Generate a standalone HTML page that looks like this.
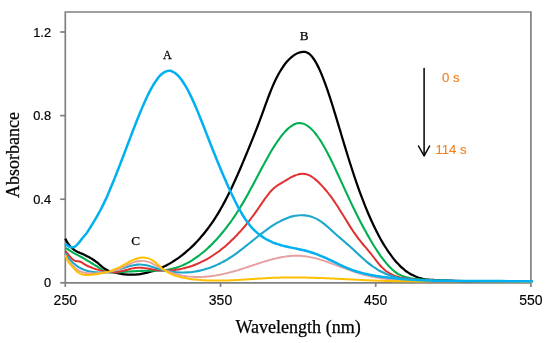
<!DOCTYPE html>
<html lang="en"><head><meta charset="utf-8"><title>Absorbance vs Wavelength</title>
<style>html,body{margin:0;padding:0;background:#fff}svg{display:block}</style></head>
<body>
<svg width="550" height="343" viewBox="0 0 550 343">
<rect width="550" height="343" fill="#fff"/>
<g stroke="#808080" stroke-width="1.7" fill="none">
<path d="M65.3 282.8V12.0H530.9V282.8"/>
<path d="M65.3 282.8H530.9" />
<path d="M60.2 282.8H65.3"/>
<path d="M60.2 199.2H65.3"/>
<path d="M60.2 115.6H65.3"/>
<path d="M60.2 32.0H65.3"/>
<path d="M65.3 282.8V286.9"/>
<path d="M220.5 282.8V286.9"/>
<path d="M375.7 282.8V286.9"/>
<path d="M530.9 282.8V286.9"/>
</g>
<g fill="none" stroke-linejoin="round" stroke-linecap="butt">
<path d="M65.20 238.60C65.45 239.05 66.20 240.47 66.70 241.30C67.20 242.14 67.70 242.91 68.20 243.63C68.70 244.35 69.20 245.00 69.70 245.61C70.20 246.22 70.70 246.77 71.20 247.29C71.70 247.80 72.20 248.26 72.70 248.69C73.20 249.13 73.70 249.51 74.20 249.87C74.70 250.23 75.20 250.55 75.70 250.85C76.20 251.16 76.70 251.42 77.20 251.68C77.70 251.94 78.20 252.16 78.70 252.39C79.20 252.61 79.70 252.81 80.20 253.02C80.70 253.23 81.20 253.43 81.70 253.65C82.20 253.86 82.70 254.08 83.20 254.31C83.70 254.54 84.20 254.78 84.70 255.03C85.20 255.27 85.70 255.53 86.20 255.78C86.70 256.03 87.20 256.29 87.70 256.54C88.20 256.80 88.70 257.06 89.20 257.32C89.70 257.59 90.20 257.86 90.70 258.14C91.20 258.43 91.70 258.72 92.20 259.04C92.70 259.35 93.20 259.68 93.70 260.02C94.20 260.36 94.70 260.71 95.20 261.08C95.70 261.45 96.20 261.84 96.70 262.23C97.20 262.63 97.70 263.04 98.20 263.46C98.70 263.88 99.40 264.49 99.70 264.75C100.00 265.01 99.53 264.61 100.00 265.01C100.47 265.42 101.67 266.52 102.50 267.17C103.33 267.83 104.17 268.43 105.00 268.94C105.83 269.44 106.67 269.83 107.50 270.20C108.33 270.56 109.17 270.85 110.00 271.14C110.83 271.43 111.67 271.69 112.50 271.94C113.33 272.18 114.17 272.41 115.00 272.63C115.83 272.84 116.67 273.03 117.50 273.21C118.33 273.39 119.17 273.55 120.00 273.70C120.83 273.84 121.67 273.97 122.50 274.08C123.33 274.19 124.17 274.29 125.00 274.36C125.83 274.44 126.67 274.50 127.50 274.55C128.33 274.59 129.17 274.62 130.00 274.64C130.83 274.65 131.67 274.65 132.50 274.63C133.33 274.61 134.17 274.57 135.00 274.52C135.83 274.47 136.67 274.40 137.50 274.32C138.33 274.24 139.17 274.14 140.00 274.03C140.83 273.91 141.67 273.79 142.50 273.64C143.33 273.50 144.17 273.34 145.00 273.17C145.83 272.99 146.67 272.80 147.50 272.60C148.33 272.40 149.17 272.18 150.00 271.95C150.83 271.71 151.67 271.46 152.50 271.20C153.33 270.94 154.17 270.66 155.00 270.37C155.83 270.08 156.67 269.77 157.50 269.44C158.33 269.12 159.17 268.78 160.00 268.43C160.83 268.07 161.67 267.70 162.50 267.31C163.33 266.93 164.17 266.52 165.00 266.11C165.83 265.69 166.67 265.25 167.50 264.80C168.33 264.35 169.17 263.88 170.00 263.40C170.83 262.91 171.67 262.41 172.50 261.90C173.33 261.38 174.17 260.84 175.00 260.29C175.83 259.74 176.67 259.17 177.50 258.59C178.33 258.00 179.17 257.40 180.00 256.78C180.83 256.15 181.67 255.52 182.50 254.86C183.33 254.20 184.17 253.53 185.00 252.84C185.83 252.15 186.67 251.44 187.50 250.71C188.33 249.98 189.17 249.23 190.00 248.47C190.83 247.70 191.67 246.92 192.50 246.11C193.33 245.30 194.17 244.47 195.00 243.62C195.83 242.77 196.67 241.90 197.50 241.01C198.33 240.11 199.17 239.19 200.00 238.25C200.83 237.30 201.67 236.33 202.50 235.34C203.33 234.34 204.17 233.32 205.00 232.27C205.83 231.22 206.67 230.14 207.50 229.04C208.33 227.93 209.17 226.80 210.00 225.63C210.83 224.47 211.67 223.27 212.50 222.05C213.33 220.82 214.17 219.56 215.00 218.27C215.83 216.98 216.67 215.66 217.50 214.30C218.33 212.94 219.17 211.55 220.00 210.12C220.83 208.69 221.67 207.23 222.50 205.73C223.33 204.23 224.17 202.69 225.00 201.12C225.83 199.54 226.67 197.93 227.50 196.28C228.33 194.63 229.17 192.94 230.00 191.22C230.83 189.50 231.67 187.74 232.50 185.96C233.33 184.17 234.17 182.36 235.00 180.52C235.83 178.68 236.67 176.81 237.50 174.92C238.33 173.03 239.17 171.11 240.00 169.18C240.83 167.25 241.67 165.30 242.50 163.33C243.33 161.37 244.17 159.38 245.00 157.39C245.83 155.39 246.67 153.38 247.50 151.37C248.33 149.35 249.17 147.33 250.00 145.30C250.83 143.26 251.67 141.23 252.50 139.16C253.33 137.10 254.17 135.03 255.00 132.93C255.83 130.82 256.67 128.70 257.50 126.53C258.33 124.37 259.17 122.18 260.00 119.94C260.83 117.70 261.67 115.41 262.50 113.11C263.33 110.82 264.17 108.47 265.00 106.17C265.83 103.87 266.67 101.55 267.50 99.31C268.33 97.06 269.17 94.84 270.00 92.72C270.83 90.60 271.67 88.55 272.50 86.60C273.33 84.66 274.17 82.81 275.00 81.04C275.83 79.28 276.67 77.61 277.50 76.03C278.33 74.44 279.17 72.95 280.00 71.54C280.83 70.12 281.67 68.80 282.50 67.55C283.33 66.31 284.17 65.14 285.00 64.06C285.83 62.97 286.67 61.97 287.50 61.03C288.33 60.10 289.17 59.25 290.00 58.46C290.83 57.68 291.67 56.97 292.50 56.33C293.33 55.69 294.17 55.12 295.00 54.61C295.83 54.10 296.67 53.67 297.50 53.29C298.33 52.91 299.17 52.59 300.00 52.36C300.83 52.12 301.67 51.93 302.50 51.87C303.33 51.81 304.17 51.82 305.00 51.97C305.83 52.13 306.67 52.39 307.50 52.81C308.33 53.24 309.17 53.79 310.00 54.52C310.83 55.26 311.67 56.17 312.50 57.22C313.33 58.28 314.17 59.51 315.00 60.87C315.83 62.23 316.67 63.75 317.50 65.38C318.33 67.01 319.17 68.78 320.00 70.66C320.83 72.53 321.67 74.53 322.50 76.62C323.33 78.70 324.17 80.90 325.00 83.17C325.83 85.44 326.67 87.81 327.50 90.23C328.33 92.65 329.17 95.15 330.00 97.70C330.83 100.25 331.67 102.87 332.50 105.52C333.33 108.16 334.17 110.87 335.00 113.59C335.83 116.31 336.67 119.07 337.50 121.84C338.33 124.61 339.17 127.40 340.00 130.19C340.83 132.98 341.67 135.78 342.50 138.56C343.33 141.34 344.17 144.12 345.00 146.87C345.83 149.62 346.67 152.35 347.50 155.04C348.33 157.73 349.17 160.39 350.00 163.01C350.83 165.64 351.67 168.23 352.50 170.77C353.33 173.32 354.17 175.83 355.00 178.29C355.83 180.76 356.67 183.18 357.50 185.55C358.33 187.93 359.17 190.25 360.00 192.53C360.83 194.81 361.67 197.04 362.50 199.22C363.33 201.40 364.17 203.52 365.00 205.61C365.83 207.69 366.67 209.72 367.50 211.70C368.33 213.69 369.17 215.62 370.00 217.51C370.83 219.40 371.67 221.24 372.50 223.04C373.33 224.83 374.17 226.58 375.00 228.28C375.83 229.98 376.67 231.63 377.50 233.24C378.33 234.85 379.17 236.41 380.00 237.92C380.83 239.44 381.67 240.91 382.50 242.34C383.33 243.76 384.17 245.14 385.00 246.48C385.83 247.82 386.67 249.11 387.50 250.36C388.33 251.60 389.17 252.81 390.00 253.97C390.83 255.13 391.67 256.24 392.50 257.32C393.33 258.39 394.17 259.42 395.00 260.41C395.83 261.40 396.67 262.35 397.50 263.25C398.33 264.15 399.17 265.02 400.00 265.84C400.83 266.66 401.67 267.44 402.50 268.18C403.33 268.91 404.17 269.61 405.00 270.27C405.83 270.93 406.67 271.54 407.50 272.12C408.33 272.70 409.17 273.23 410.00 273.73C410.83 274.23 411.67 274.69 412.50 275.12C413.33 275.55 414.17 275.94 415.00 276.30C415.83 276.66 416.67 276.99 417.50 277.29C418.33 277.59 419.17 277.86 420.00 278.10C420.83 278.35 421.67 278.56 422.50 278.76C423.33 278.95 424.17 279.14 425.00 279.27C425.83 279.41 426.67 279.49 427.50 279.57C428.33 279.65 429.17 279.70 430.00 279.76C430.83 279.81 431.67 279.85 432.50 279.90C433.33 279.95 434.17 279.99 435.00 280.04C435.83 280.09 436.67 280.16 437.50 280.20C438.33 280.24 437.08 280.19 440.00 280.29C442.92 280.40 450.00 280.69 455.00 280.82C460.00 280.94 465.00 280.99 470.00 281.03C475.00 281.07 480.00 281.06 485.00 281.07C490.00 281.08 495.00 281.10 500.00 281.11C505.00 281.13 510.00 281.14 515.00 281.15C520.00 281.17 527.17 281.19 530.00 281.20C532.83 281.20 531.67 281.20 532.00 281.20" stroke="#000000" stroke-width="2.25"/>
<path d="M65.20 248.00C65.45 248.11 66.20 248.41 66.70 248.67C67.20 248.92 67.70 249.22 68.20 249.52C68.70 249.82 69.20 250.16 69.70 250.49C70.20 250.82 70.70 251.17 71.20 251.50C71.70 251.83 72.20 252.17 72.70 252.48C73.20 252.79 73.70 253.09 74.20 253.37C74.70 253.64 75.20 253.89 75.70 254.14C76.20 254.38 76.70 254.61 77.20 254.86C77.70 255.10 78.20 255.34 78.70 255.60C79.20 255.86 79.70 256.12 80.20 256.39C80.70 256.67 81.20 256.95 81.70 257.23C82.20 257.52 82.70 257.81 83.20 258.11C83.70 258.40 84.20 258.70 84.70 259.00C85.20 259.30 85.70 259.60 86.20 259.90C86.70 260.20 87.20 260.50 87.70 260.80C88.20 261.10 88.70 261.40 89.20 261.70C89.70 261.99 90.20 262.29 90.70 262.59C91.20 262.89 91.70 263.19 92.20 263.49C92.70 263.79 93.20 264.09 93.70 264.39C94.20 264.69 94.70 265.00 95.20 265.30C95.70 265.61 96.20 265.92 96.70 266.23C97.20 266.54 97.70 266.86 98.20 267.17C98.70 267.49 99.40 267.95 99.70 268.14C100.00 268.34 99.53 268.04 100.00 268.34C100.47 268.63 101.67 269.44 102.50 269.91C103.33 270.38 104.17 270.82 105.00 271.16C105.83 271.51 106.67 271.76 107.50 271.97C108.33 272.18 109.17 272.31 110.00 272.41C110.83 272.50 111.67 272.54 112.50 272.55C113.33 272.57 114.17 272.54 115.00 272.51C115.83 272.47 116.67 272.41 117.50 272.35C118.33 272.30 119.17 272.23 120.00 272.17C120.83 272.11 121.67 272.05 122.50 271.99C123.33 271.93 124.17 271.87 125.00 271.82C125.83 271.76 126.67 271.70 127.50 271.65C128.33 271.59 129.17 271.53 130.00 271.48C130.83 271.43 131.67 271.38 132.50 271.33C133.33 271.28 134.17 271.23 135.00 271.18C135.83 271.14 136.67 271.09 137.50 271.05C138.33 271.01 139.17 270.97 140.00 270.93C140.83 270.90 141.67 270.86 142.50 270.83C143.33 270.80 144.17 270.78 145.00 270.75C145.83 270.73 146.67 270.71 147.50 270.69C148.33 270.68 149.17 270.67 150.00 270.66C150.83 270.65 151.67 270.65 152.50 270.64C153.33 270.64 154.17 270.64 155.00 270.63C155.83 270.62 156.67 270.61 157.50 270.59C158.33 270.58 159.17 270.55 160.00 270.52C160.83 270.48 161.67 270.44 162.50 270.38C163.33 270.32 164.17 270.25 165.00 270.15C165.83 270.06 166.67 269.95 167.50 269.82C168.33 269.69 169.17 269.54 170.00 269.37C170.83 269.20 171.67 269.01 172.50 268.80C173.33 268.59 174.17 268.36 175.00 268.11C175.83 267.87 176.67 267.60 177.50 267.31C178.33 267.02 179.17 266.72 180.00 266.39C180.83 266.07 181.67 265.72 182.50 265.36C183.33 264.99 184.17 264.61 185.00 264.20C185.83 263.80 186.67 263.37 187.50 262.93C188.33 262.49 189.17 262.02 190.00 261.54C190.83 261.06 191.67 260.55 192.50 260.03C193.33 259.51 194.17 258.96 195.00 258.40C195.83 257.84 196.67 257.26 197.50 256.65C198.33 256.05 199.17 255.43 200.00 254.79C200.83 254.15 201.67 253.48 202.50 252.80C203.33 252.12 204.17 251.42 205.00 250.70C205.83 249.98 206.67 249.23 207.50 248.47C208.33 247.71 209.17 246.93 210.00 246.13C210.83 245.32 211.67 244.50 212.50 243.66C213.33 242.82 214.17 241.95 215.00 241.07C215.83 240.18 216.67 239.28 217.50 238.35C218.33 237.42 219.17 236.47 220.00 235.50C220.83 234.53 221.67 233.54 222.50 232.52C223.33 231.51 224.17 230.47 225.00 229.41C225.83 228.35 226.67 227.27 227.50 226.16C228.33 225.05 229.17 223.93 230.00 222.77C230.83 221.62 231.67 220.44 232.50 219.24C233.33 218.04 234.17 216.81 235.00 215.56C235.83 214.31 236.67 213.04 237.50 211.74C238.33 210.44 239.17 209.11 240.00 207.76C240.83 206.41 241.67 205.04 242.50 203.64C243.33 202.24 244.17 200.81 245.00 199.36C245.83 197.90 246.67 196.42 247.50 194.92C248.33 193.42 249.17 191.90 250.00 190.36C250.83 188.83 251.67 187.27 252.50 185.71C253.33 184.15 254.17 182.58 255.00 181.00C255.83 179.43 256.67 177.84 257.50 176.26C258.33 174.68 259.17 173.10 260.00 171.53C260.83 169.96 261.67 168.39 262.50 166.83C263.33 165.28 264.17 163.73 265.00 162.21C265.83 160.68 266.67 159.17 267.50 157.69C268.33 156.20 269.17 154.73 270.00 153.30C270.83 151.87 271.67 150.46 272.50 149.08C273.33 147.71 274.17 146.37 275.00 145.07C275.83 143.77 276.67 142.50 277.50 141.28C278.33 140.07 279.17 138.89 280.00 137.77C280.83 136.64 281.67 135.56 282.50 134.55C283.33 133.53 284.17 132.56 285.00 131.66C285.83 130.76 286.67 129.91 287.50 129.13C288.33 128.36 289.17 127.64 290.00 127.00C290.83 126.36 291.67 125.79 292.50 125.30C293.33 124.81 294.17 124.39 295.00 124.06C295.83 123.73 296.67 123.48 297.50 123.31C298.33 123.15 299.17 123.07 300.00 123.09C300.83 123.11 301.67 123.22 302.50 123.43C303.33 123.64 304.17 123.94 305.00 124.33C305.83 124.72 306.67 125.20 307.50 125.76C308.33 126.32 309.17 126.97 310.00 127.70C310.83 128.42 311.67 129.23 312.50 130.11C313.33 130.99 314.17 131.95 315.00 132.97C315.83 134.00 316.67 135.09 317.50 136.25C318.33 137.41 319.17 138.63 320.00 139.92C320.83 141.20 321.67 142.54 322.50 143.94C323.33 145.33 324.17 146.79 325.00 148.28C325.83 149.78 326.67 151.33 327.50 152.91C328.33 154.49 329.17 156.12 330.00 157.78C330.83 159.43 331.67 161.13 332.50 162.85C333.33 164.57 334.17 166.32 335.00 168.08C335.83 169.85 336.67 171.64 337.50 173.44C338.33 175.24 339.17 177.05 340.00 178.87C340.83 180.69 341.67 182.53 342.50 184.36C343.33 186.18 344.17 188.02 345.00 189.84C345.83 191.66 346.67 193.48 347.50 195.29C348.33 197.09 349.17 198.88 350.00 200.66C350.83 202.43 351.67 204.18 352.50 205.92C353.33 207.65 354.17 209.37 355.00 211.06C355.83 212.75 356.67 214.43 357.50 216.08C358.33 217.73 359.17 219.37 360.00 220.97C360.83 222.58 361.67 224.17 362.50 225.74C363.33 227.31 364.17 228.85 365.00 230.37C365.83 231.89 366.67 233.39 367.50 234.86C368.33 236.34 369.17 237.79 370.00 239.22C370.83 240.64 371.67 242.05 372.50 243.42C373.33 244.80 374.17 246.16 375.00 247.48C375.83 248.80 376.67 250.09 377.50 251.35C378.33 252.61 379.17 253.84 380.00 255.03C380.83 256.22 381.67 257.38 382.50 258.49C383.33 259.61 384.17 260.68 385.00 261.72C385.83 262.75 386.67 263.74 387.50 264.68C388.33 265.62 389.17 266.52 390.00 267.36C390.83 268.20 391.67 269.00 392.50 269.74C393.33 270.48 394.17 271.17 395.00 271.80C395.83 272.43 396.67 273.00 397.50 273.52C398.33 274.04 399.17 274.50 400.00 274.93C400.83 275.35 401.67 275.72 402.50 276.06C403.33 276.39 404.17 276.69 405.00 276.95C405.83 277.21 406.67 277.43 407.50 277.64C408.33 277.84 409.17 278.01 410.00 278.16C410.83 278.31 411.67 278.44 412.50 278.55C413.33 278.67 414.17 278.76 415.00 278.85C415.83 278.94 416.67 279.02 417.50 279.09C418.33 279.17 419.17 279.24 420.00 279.31C420.83 279.39 421.67 279.45 422.50 279.52C423.33 279.58 424.17 279.65 425.00 279.71C425.83 279.77 426.67 279.83 427.50 279.90C428.33 279.96 429.17 280.03 430.00 280.08C430.83 280.14 431.67 280.19 432.50 280.23C433.33 280.28 434.17 280.32 435.00 280.36C435.83 280.41 436.67 280.44 437.50 280.48C438.33 280.52 437.08 280.50 440.00 280.59C442.92 280.68 450.00 280.94 455.00 281.01C460.00 281.09 465.00 281.04 470.00 281.05C475.00 281.06 480.00 281.07 485.00 281.09C490.00 281.10 495.00 281.11 500.00 281.12C505.00 281.14 510.00 281.15 515.00 281.16C520.00 281.17 527.17 281.19 530.00 281.20C532.83 281.20 531.67 281.20 532.00 281.20" stroke="#00B050" stroke-width="2.1"/>
<path d="M65.20 251.00C65.45 251.27 66.20 252.06 66.70 252.64C67.20 253.21 67.70 253.84 68.20 254.45C68.70 255.06 69.20 255.70 69.70 256.29C70.20 256.88 70.70 257.48 71.20 258.00C71.70 258.52 72.20 259.02 72.70 259.43C73.20 259.83 73.70 260.16 74.20 260.42C74.70 260.67 75.20 260.82 75.70 260.95C76.20 261.07 76.70 261.11 77.20 261.17C77.70 261.24 78.20 261.24 78.70 261.33C79.20 261.43 79.70 261.55 80.20 261.74C80.70 261.93 81.20 262.20 81.70 262.48C82.20 262.76 82.70 263.10 83.20 263.42C83.70 263.74 84.20 264.09 84.70 264.40C85.20 264.70 85.70 265.00 86.20 265.26C86.70 265.53 87.20 265.76 87.70 265.99C88.20 266.23 88.70 266.44 89.20 266.66C89.70 266.87 90.20 267.08 90.70 267.28C91.20 267.48 91.70 267.68 92.20 267.87C92.70 268.06 93.20 268.24 93.70 268.42C94.20 268.59 94.70 268.77 95.20 268.93C95.70 269.10 96.20 269.26 96.70 269.41C97.20 269.57 97.70 269.72 98.20 269.86C98.70 270.01 99.40 270.20 99.70 270.28C100.00 270.37 99.53 270.25 100.00 270.36C100.47 270.48 101.67 270.79 102.50 270.98C103.33 271.17 104.17 271.34 105.00 271.49C105.83 271.65 106.67 271.78 107.50 271.89C108.33 272.00 109.17 272.09 110.00 272.15C110.83 272.22 111.67 272.26 112.50 272.27C113.33 272.28 114.17 272.26 115.00 272.21C115.83 272.17 116.67 272.09 117.50 271.98C118.33 271.87 119.17 271.72 120.00 271.56C120.83 271.39 121.67 271.19 122.50 270.98C123.33 270.78 124.17 270.55 125.00 270.32C125.83 270.09 126.67 269.85 127.50 269.62C128.33 269.39 129.17 269.16 130.00 268.95C130.83 268.74 131.67 268.54 132.50 268.37C133.33 268.20 134.17 268.05 135.00 267.94C135.83 267.83 136.67 267.75 137.50 267.71C138.33 267.67 139.17 267.67 140.00 267.69C140.83 267.72 141.67 267.77 142.50 267.85C143.33 267.92 144.17 268.02 145.00 268.13C145.83 268.24 146.67 268.37 147.50 268.51C148.33 268.64 149.17 268.79 150.00 268.94C150.83 269.09 151.67 269.24 152.50 269.39C153.33 269.53 154.17 269.68 155.00 269.81C155.83 269.94 156.67 270.07 157.50 270.17C158.33 270.28 159.17 270.37 160.00 270.44C160.83 270.51 161.67 270.56 162.50 270.60C163.33 270.63 164.17 270.65 165.00 270.66C165.83 270.66 166.67 270.65 167.50 270.62C168.33 270.59 169.17 270.55 170.00 270.49C170.83 270.44 171.67 270.36 172.50 270.28C173.33 270.19 174.17 270.09 175.00 269.98C175.83 269.87 176.67 269.74 177.50 269.61C178.33 269.47 179.17 269.32 180.00 269.15C180.83 268.99 181.67 268.81 182.50 268.63C183.33 268.44 184.17 268.23 185.00 268.02C185.83 267.80 186.67 267.57 187.50 267.33C188.33 267.09 189.17 266.83 190.00 266.56C190.83 266.29 191.67 266.01 192.50 265.71C193.33 265.41 194.17 265.10 195.00 264.77C195.83 264.44 196.67 264.10 197.50 263.75C198.33 263.39 199.17 263.02 200.00 262.63C200.83 262.25 201.67 261.85 202.50 261.43C203.33 261.02 204.17 260.59 205.00 260.14C205.83 259.70 206.67 259.24 207.50 258.76C208.33 258.29 209.17 257.79 210.00 257.29C210.83 256.78 211.67 256.25 212.50 255.72C213.33 255.18 214.17 254.62 215.00 254.05C215.83 253.48 216.67 252.89 217.50 252.28C218.33 251.68 219.17 251.06 220.00 250.42C220.83 249.78 221.67 249.13 222.50 248.46C223.33 247.78 224.17 247.10 225.00 246.39C225.83 245.68 226.67 244.96 227.50 244.22C228.33 243.48 229.17 242.72 230.00 241.94C230.83 241.17 231.67 240.38 232.50 239.56C233.33 238.75 234.17 237.92 235.00 237.07C235.83 236.23 236.67 235.36 237.50 234.48C238.33 233.59 239.17 232.69 240.00 231.77C240.83 230.84 241.67 229.90 242.50 228.94C243.33 227.98 244.17 227.01 245.00 226.01C245.83 225.01 246.67 223.99 247.50 222.96C248.33 221.92 249.17 220.87 250.00 219.79C250.83 218.71 251.67 217.62 252.50 216.50C253.33 215.39 254.17 214.25 255.00 213.10C255.83 211.94 256.67 210.77 257.50 209.57C258.33 208.38 259.17 207.15 260.00 205.94C260.83 204.72 261.67 203.48 262.50 202.27C263.33 201.06 264.17 199.85 265.00 198.68C265.83 197.51 266.67 196.36 267.50 195.27C268.33 194.19 269.17 193.13 270.00 192.16C270.83 191.18 271.67 190.26 272.50 189.43C273.33 188.61 274.17 187.87 275.00 187.21C275.83 186.55 276.67 186.02 277.50 185.48C278.33 184.94 279.17 184.47 280.00 183.97C280.83 183.46 281.67 182.96 282.50 182.44C283.33 181.93 284.17 181.41 285.00 180.89C285.83 180.38 286.67 179.87 287.50 179.37C288.33 178.88 289.17 178.39 290.00 177.94C290.83 177.48 291.67 177.04 292.50 176.64C293.33 176.23 294.17 175.85 295.00 175.52C295.83 175.19 296.67 174.89 297.50 174.65C298.33 174.41 299.17 174.20 300.00 174.07C300.83 173.93 301.67 173.85 302.50 173.84C303.33 173.83 304.17 173.87 305.00 174.01C305.83 174.14 306.67 174.34 307.50 174.63C308.33 174.91 309.17 175.28 310.00 175.72C310.83 176.16 311.67 176.67 312.50 177.24C313.33 177.81 314.17 178.45 315.00 179.13C315.83 179.81 316.67 180.55 317.50 181.32C318.33 182.10 319.17 182.92 320.00 183.77C320.83 184.62 321.67 185.50 322.50 186.41C323.33 187.32 324.17 188.26 325.00 189.24C325.83 190.21 326.67 191.21 327.50 192.25C328.33 193.29 329.17 194.36 330.00 195.47C330.83 196.57 331.67 197.71 332.50 198.89C333.33 200.06 334.17 201.28 335.00 202.52C335.83 203.76 336.67 205.03 337.50 206.32C338.33 207.61 339.17 208.94 340.00 210.26C340.83 211.59 341.67 212.94 342.50 214.28C343.33 215.63 344.17 216.99 345.00 218.33C345.83 219.68 346.67 221.04 347.50 222.37C348.33 223.71 349.17 225.04 350.00 226.35C350.83 227.66 351.67 228.96 352.50 230.22C353.33 231.48 354.17 232.73 355.00 233.93C355.83 235.13 356.67 236.31 357.50 237.44C358.33 238.56 359.17 239.64 360.00 240.69C360.83 241.75 361.67 242.74 362.50 243.74C363.33 244.74 364.17 245.70 365.00 246.67C365.83 247.65 366.67 248.60 367.50 249.59C368.33 250.57 369.17 251.55 370.00 252.58C370.83 253.60 371.67 254.67 372.50 255.74C373.33 256.81 374.17 257.93 375.00 259.02C375.83 260.10 376.67 261.20 377.50 262.24C378.33 263.28 379.17 264.31 380.00 265.25C380.83 266.20 381.67 267.08 382.50 267.90C383.33 268.71 384.17 269.46 385.00 270.15C385.83 270.84 386.67 271.46 387.50 272.04C388.33 272.62 389.17 273.13 390.00 273.61C390.83 274.09 391.67 274.51 392.50 274.90C393.33 275.29 394.17 275.63 395.00 275.94C395.83 276.26 396.67 276.53 397.50 276.78C398.33 277.03 399.17 277.24 400.00 277.44C400.83 277.64 401.67 277.81 402.50 277.97C403.33 278.13 404.17 278.27 405.00 278.40C405.83 278.53 406.67 278.65 407.50 278.77C408.33 278.89 409.17 278.99 410.00 279.10C410.83 279.20 411.67 279.30 412.50 279.39C413.33 279.48 414.17 279.57 415.00 279.65C415.83 279.73 416.67 279.80 417.50 279.87C418.33 279.94 419.17 280.00 420.00 280.06C420.83 280.12 421.67 280.18 422.50 280.23C423.33 280.28 424.17 280.33 425.00 280.37C425.83 280.40 426.67 280.43 427.50 280.45C428.33 280.48 429.17 280.51 430.00 280.53C430.83 280.56 431.67 280.57 432.50 280.59C433.33 280.60 434.17 280.62 435.00 280.63C435.83 280.65 436.67 280.66 437.50 280.68C438.33 280.69 437.08 280.67 440.00 280.72C442.92 280.78 450.00 280.96 455.00 281.01C460.00 281.07 465.00 281.04 470.00 281.05C475.00 281.06 480.00 281.07 485.00 281.09C490.00 281.10 495.00 281.11 500.00 281.12C505.00 281.14 510.00 281.15 515.00 281.16C520.00 281.17 527.17 281.19 530.00 281.20C532.83 281.20 531.67 281.20 532.00 281.20" stroke="#E03030" stroke-width="2.0"/>
<path d="M65.20 253.10C65.45 253.47 66.20 254.61 66.70 255.32C67.20 256.03 67.70 256.71 68.20 257.36C68.70 258.01 69.20 258.62 69.70 259.22C70.20 259.81 70.70 260.37 71.20 260.91C71.70 261.44 72.20 261.95 72.70 262.44C73.20 262.92 73.70 263.38 74.20 263.82C74.70 264.25 75.20 264.66 75.70 265.05C76.20 265.44 76.70 265.81 77.20 266.16C77.70 266.51 78.20 266.83 78.70 267.14C79.20 267.45 79.70 267.73 80.20 268.00C80.70 268.27 81.20 268.53 81.70 268.76C82.20 269.00 82.70 269.22 83.20 269.42C83.70 269.63 84.20 269.82 84.70 269.99C85.20 270.17 85.70 270.33 86.20 270.49C86.70 270.64 87.20 270.78 87.70 270.91C88.20 271.03 88.70 271.15 89.20 271.26C89.70 271.37 90.20 271.47 90.70 271.57C91.20 271.66 91.70 271.74 92.20 271.82C92.70 271.90 93.20 271.98 93.70 272.04C94.20 272.11 94.70 272.17 95.20 272.22C95.70 272.28 96.20 272.33 96.70 272.37C97.20 272.41 97.70 272.44 98.20 272.47C98.70 272.49 99.40 272.51 99.70 272.52C100.00 272.53 99.53 272.53 100.00 272.53C100.47 272.53 101.67 272.54 102.50 272.51C103.33 272.49 104.17 272.44 105.00 272.37C105.83 272.31 106.67 272.22 107.50 272.10C108.33 271.99 109.17 271.85 110.00 271.69C110.83 271.53 111.67 271.35 112.50 271.15C113.33 270.95 114.17 270.73 115.00 270.50C115.83 270.27 116.67 270.02 117.50 269.77C118.33 269.52 119.17 269.26 120.00 269.00C120.83 268.73 121.67 268.46 122.50 268.20C123.33 267.93 124.17 267.67 125.00 267.41C125.83 267.16 126.67 266.90 127.50 266.67C128.33 266.43 129.17 266.20 130.00 265.99C130.83 265.78 131.67 265.58 132.50 265.41C133.33 265.24 134.17 265.09 135.00 264.96C135.83 264.84 136.67 264.74 137.50 264.67C138.33 264.61 139.17 264.57 140.00 264.57C140.83 264.57 141.67 264.61 142.50 264.69C143.33 264.76 144.17 264.89 145.00 265.03C145.83 265.18 146.67 265.37 147.50 265.57C148.33 265.78 149.17 266.01 150.00 266.25C150.83 266.50 151.67 266.76 152.50 267.02C153.33 267.29 154.17 267.56 155.00 267.83C155.83 268.10 156.67 268.37 157.50 268.62C158.33 268.88 159.17 269.13 160.00 269.36C160.83 269.59 161.67 269.81 162.50 270.01C163.33 270.22 164.17 270.41 165.00 270.59C165.83 270.77 166.67 270.94 167.50 271.10C168.33 271.25 169.17 271.40 170.00 271.53C170.83 271.66 171.67 271.77 172.50 271.88C173.33 271.98 174.17 272.08 175.00 272.16C175.83 272.23 176.67 272.30 177.50 272.36C178.33 272.41 179.17 272.45 180.00 272.48C180.83 272.51 181.67 272.52 182.50 272.53C183.33 272.53 184.17 272.52 185.00 272.50C185.83 272.47 186.67 272.44 187.50 272.39C188.33 272.34 189.17 272.27 190.00 272.20C190.83 272.12 191.67 272.03 192.50 271.93C193.33 271.83 194.17 271.71 195.00 271.58C195.83 271.45 196.67 271.31 197.50 271.15C198.33 270.99 199.17 270.82 200.00 270.63C200.83 270.45 201.67 270.25 202.50 270.04C203.33 269.82 204.17 269.60 205.00 269.35C205.83 269.11 206.67 268.86 207.50 268.59C208.33 268.32 209.17 268.03 210.00 267.74C210.83 267.44 211.67 267.13 212.50 266.80C213.33 266.47 214.17 266.13 215.00 265.77C215.83 265.42 216.67 265.05 217.50 264.66C218.33 264.27 219.17 263.87 220.00 263.46C220.83 263.04 221.67 262.61 222.50 262.17C223.33 261.72 224.17 261.26 225.00 260.78C225.83 260.31 226.67 259.82 227.50 259.31C228.33 258.81 229.17 258.28 230.00 257.75C230.83 257.21 231.67 256.66 232.50 256.09C233.33 255.53 234.17 254.94 235.00 254.35C235.83 253.76 236.67 253.15 237.50 252.54C238.33 251.93 239.17 251.30 240.00 250.67C240.83 250.03 241.67 249.39 242.50 248.74C243.33 248.09 244.17 247.44 245.00 246.78C245.83 246.12 246.67 245.46 247.50 244.79C248.33 244.12 249.17 243.45 250.00 242.78C250.83 242.11 251.67 241.44 252.50 240.76C253.33 240.09 254.17 239.42 255.00 238.75C255.83 238.09 256.67 237.42 257.50 236.76C258.33 236.10 259.17 235.44 260.00 234.79C260.83 234.14 261.67 233.50 262.50 232.86C263.33 232.23 264.17 231.60 265.00 230.98C265.83 230.37 266.67 229.76 267.50 229.16C268.33 228.57 269.17 227.98 270.00 227.41C270.83 226.84 271.67 226.28 272.50 225.74C273.33 225.20 274.17 224.67 275.00 224.16C275.83 223.65 276.67 223.16 277.50 222.68C278.33 222.21 279.17 221.75 280.00 221.31C280.83 220.87 281.67 220.45 282.50 220.05C283.33 219.66 284.17 219.28 285.00 218.92C285.83 218.57 286.67 218.23 287.50 217.92C288.33 217.61 289.17 217.33 290.00 217.06C290.83 216.80 291.67 216.57 292.50 216.36C293.33 216.15 294.17 215.96 295.00 215.81C295.83 215.65 296.67 215.52 297.50 215.42C298.33 215.33 299.17 215.26 300.00 215.22C300.83 215.18 301.67 215.17 302.50 215.19C303.33 215.22 304.17 215.27 305.00 215.36C305.83 215.45 306.67 215.58 307.50 215.74C308.33 215.89 309.17 216.09 310.00 216.32C310.83 216.55 311.67 216.81 312.50 217.12C313.33 217.42 314.17 217.76 315.00 218.14C315.83 218.52 316.67 218.94 317.50 219.41C318.33 219.87 319.17 220.37 320.00 220.91C320.83 221.46 321.67 222.05 322.50 222.67C323.33 223.29 324.17 223.95 325.00 224.64C325.83 225.32 326.67 226.04 327.50 226.76C328.33 227.49 329.17 228.23 330.00 228.98C330.83 229.73 331.67 230.48 332.50 231.23C333.33 231.98 334.17 232.73 335.00 233.47C335.83 234.21 336.67 234.94 337.50 235.67C338.33 236.40 339.17 237.13 340.00 237.85C340.83 238.58 341.67 239.30 342.50 240.02C343.33 240.74 344.17 241.46 345.00 242.18C345.83 242.90 346.67 243.62 347.50 244.35C348.33 245.08 349.17 245.82 350.00 246.56C350.83 247.31 351.67 248.06 352.50 248.82C353.33 249.58 354.17 250.35 355.00 251.12C355.83 251.89 356.67 252.67 357.50 253.45C358.33 254.22 359.17 255.00 360.00 255.76C360.83 256.53 361.67 257.29 362.50 258.04C363.33 258.79 364.17 259.54 365.00 260.26C365.83 260.98 366.67 261.70 367.50 262.39C368.33 263.07 369.17 263.75 370.00 264.39C370.83 265.04 371.67 265.66 372.50 266.26C373.33 266.85 374.17 267.42 375.00 267.97C375.83 268.51 376.67 269.04 377.50 269.54C378.33 270.04 379.17 270.51 380.00 270.97C380.83 271.42 381.67 271.85 382.50 272.27C383.33 272.68 384.17 273.07 385.00 273.44C385.83 273.81 386.67 274.16 387.50 274.50C388.33 274.83 389.17 275.14 390.00 275.44C390.83 275.74 391.67 276.02 392.50 276.28C393.33 276.54 394.17 276.79 395.00 277.02C395.83 277.25 396.67 277.47 397.50 277.67C398.33 277.87 399.17 278.05 400.00 278.23C400.83 278.40 401.67 278.56 402.50 278.71C403.33 278.86 404.17 279.00 405.00 279.12C405.83 279.25 406.67 279.36 407.50 279.46C408.33 279.57 409.17 279.66 410.00 279.75C410.83 279.83 411.67 279.91 412.50 279.98C413.33 280.05 414.17 280.11 415.00 280.16C415.83 280.21 416.67 280.26 417.50 280.30C418.33 280.34 419.17 280.38 420.00 280.41C420.83 280.44 421.67 280.47 422.50 280.49C423.33 280.52 424.17 280.54 425.00 280.55C425.83 280.56 426.67 280.56 427.50 280.56C428.33 280.56 429.17 280.57 430.00 280.58C430.83 280.58 431.67 280.59 432.50 280.60C433.33 280.60 434.17 280.61 435.00 280.63C435.83 280.64 436.67 280.65 437.50 280.67C438.33 280.68 437.08 280.66 440.00 280.72C442.92 280.77 450.00 280.96 455.00 281.01C460.00 281.07 465.00 281.04 470.00 281.05C475.00 281.06 480.00 281.07 485.00 281.09C490.00 281.10 495.00 281.11 500.00 281.12C505.00 281.14 510.00 281.15 515.00 281.16C520.00 281.17 527.17 281.19 530.00 281.20C532.83 281.20 531.67 281.20 532.00 281.20" stroke="#1BA8CC" stroke-width="2.1"/>
<path d="M65.20 254.60C65.45 255.11 66.20 256.73 66.70 257.65C67.20 258.57 67.70 259.36 68.20 260.12C68.70 260.87 69.20 261.53 69.70 262.18C70.20 262.82 70.70 263.41 71.20 264.00C71.70 264.58 72.20 265.14 72.70 265.67C73.20 266.20 73.70 266.71 74.20 267.18C74.70 267.66 75.20 268.10 75.70 268.52C76.20 268.93 76.70 269.30 77.20 269.65C77.70 269.99 78.20 270.29 78.70 270.57C79.20 270.85 79.70 271.10 80.20 271.32C80.70 271.54 81.20 271.73 81.70 271.91C82.20 272.08 82.70 272.23 83.20 272.36C83.70 272.50 84.20 272.61 84.70 272.71C85.20 272.81 85.70 272.90 86.20 272.97C86.70 273.05 87.20 273.12 87.70 273.17C88.20 273.22 88.70 273.27 89.20 273.30C89.70 273.34 90.20 273.36 90.70 273.38C91.20 273.39 91.70 273.40 92.20 273.40C92.70 273.40 93.20 273.40 93.70 273.38C94.20 273.37 94.70 273.35 95.20 273.33C95.70 273.31 96.20 273.28 96.70 273.24C97.20 273.21 97.70 273.17 98.20 273.13C98.70 273.10 99.40 273.03 99.70 273.01C100.00 272.98 99.53 273.03 100.00 272.98C100.47 272.93 101.67 272.83 102.50 272.74C103.33 272.65 104.17 272.55 105.00 272.44C105.83 272.33 106.67 272.22 107.50 272.08C108.33 271.95 109.17 271.80 110.00 271.63C110.83 271.46 111.67 271.28 112.50 271.07C113.33 270.86 114.17 270.63 115.00 270.38C115.83 270.12 116.67 269.84 117.50 269.53C118.33 269.22 119.17 268.88 120.00 268.52C120.83 268.16 121.67 267.77 122.50 267.38C123.33 266.99 124.17 266.58 125.00 266.18C125.83 265.78 126.67 265.36 127.50 264.97C128.33 264.57 129.17 264.18 130.00 263.81C130.83 263.45 131.67 263.09 132.50 262.77C133.33 262.46 134.17 262.16 135.00 261.91C135.83 261.67 136.67 261.45 137.50 261.29C138.33 261.13 139.17 261.01 140.00 260.94C140.83 260.87 141.67 260.84 142.50 260.87C143.33 260.90 144.17 260.97 145.00 261.10C145.83 261.22 146.67 261.40 147.50 261.63C148.33 261.86 149.17 262.15 150.00 262.49C150.83 262.82 151.67 263.23 152.50 263.65C153.33 264.07 154.17 264.55 155.00 265.01C155.83 265.48 156.67 265.97 157.50 266.43C158.33 266.89 159.17 267.35 160.00 267.79C160.83 268.22 161.67 268.64 162.50 269.04C163.33 269.44 164.17 269.82 165.00 270.18C165.83 270.55 166.67 270.90 167.50 271.23C168.33 271.57 169.17 271.88 170.00 272.19C170.83 272.49 171.67 272.77 172.50 273.04C173.33 273.32 174.17 273.57 175.00 273.81C175.83 274.05 176.67 274.28 177.50 274.49C178.33 274.70 179.17 274.90 180.00 275.08C180.83 275.26 181.67 275.43 182.50 275.59C183.33 275.74 184.17 275.88 185.00 276.01C185.83 276.14 186.67 276.25 187.50 276.36C188.33 276.46 189.17 276.55 190.00 276.62C190.83 276.70 191.67 276.77 192.50 276.82C193.33 276.87 194.17 276.91 195.00 276.94C195.83 276.97 196.67 276.98 197.50 276.99C198.33 277.00 199.17 276.99 200.00 276.97C200.83 276.96 201.67 276.93 202.50 276.89C203.33 276.85 204.17 276.81 205.00 276.75C205.83 276.69 206.67 276.62 207.50 276.54C208.33 276.47 209.17 276.38 210.00 276.28C210.83 276.19 211.67 276.08 212.50 275.97C213.33 275.85 214.17 275.73 215.00 275.60C215.83 275.46 216.67 275.32 217.50 275.17C218.33 275.03 219.17 274.87 220.00 274.71C220.83 274.54 221.67 274.37 222.50 274.19C223.33 274.01 224.17 273.83 225.00 273.64C225.83 273.44 226.67 273.24 227.50 273.04C228.33 272.83 229.17 272.62 230.00 272.40C230.83 272.18 231.67 271.96 232.50 271.73C233.33 271.50 234.17 271.26 235.00 271.02C235.83 270.78 236.67 270.54 237.50 270.29C238.33 270.04 239.17 269.78 240.00 269.52C240.83 269.26 241.67 269.00 242.50 268.73C243.33 268.47 244.17 268.19 245.00 267.92C245.83 267.65 246.67 267.37 247.50 267.10C248.33 266.82 249.17 266.54 250.00 266.27C250.83 265.99 251.67 265.71 252.50 265.43C253.33 265.15 254.17 264.87 255.00 264.59C255.83 264.32 256.67 264.04 257.50 263.76C258.33 263.49 259.17 263.22 260.00 262.95C260.83 262.68 261.67 262.41 262.50 262.15C263.33 261.89 264.17 261.62 265.00 261.37C265.83 261.12 266.67 260.87 267.50 260.62C268.33 260.38 269.17 260.14 270.00 259.90C270.83 259.67 271.67 259.44 272.50 259.22C273.33 259.01 274.17 258.79 275.00 258.59C275.83 258.39 276.67 258.19 277.50 258.00C278.33 257.82 279.17 257.64 280.00 257.47C280.83 257.30 281.67 257.14 282.50 257.00C283.33 256.85 284.17 256.71 285.00 256.59C285.83 256.46 286.67 256.35 287.50 256.25C288.33 256.14 289.17 256.06 290.00 255.98C290.83 255.91 291.67 255.84 292.50 255.80C293.33 255.75 294.17 255.71 295.00 255.70C295.83 255.68 296.67 255.67 297.50 255.69C298.33 255.70 299.17 255.73 300.00 255.77C300.83 255.82 301.67 255.88 302.50 255.96C303.33 256.04 304.17 256.13 305.00 256.24C305.83 256.35 306.67 256.47 307.50 256.61C308.33 256.74 309.17 256.89 310.00 257.06C310.83 257.22 311.67 257.40 312.50 257.58C313.33 257.77 314.17 257.97 315.00 258.18C315.83 258.39 316.67 258.61 317.50 258.84C318.33 259.07 319.17 259.31 320.00 259.56C320.83 259.80 321.67 260.06 322.50 260.32C323.33 260.58 324.17 260.86 325.00 261.13C325.83 261.41 326.67 261.69 327.50 261.98C328.33 262.27 329.17 262.56 330.00 262.86C330.83 263.16 331.67 263.46 332.50 263.77C333.33 264.07 334.17 264.38 335.00 264.69C335.83 265.00 336.67 265.31 337.50 265.63C338.33 265.94 339.17 266.26 340.00 266.57C340.83 266.88 341.67 267.20 342.50 267.51C343.33 267.83 344.17 268.14 345.00 268.45C345.83 268.76 346.67 269.07 347.50 269.37C348.33 269.68 349.17 269.98 350.00 270.28C350.83 270.58 351.67 270.87 352.50 271.16C353.33 271.45 354.17 271.73 355.00 272.01C355.83 272.28 356.67 272.55 357.50 272.82C358.33 273.08 359.17 273.34 360.00 273.58C360.83 273.83 361.67 274.07 362.50 274.30C363.33 274.53 364.17 274.76 365.00 274.97C365.83 275.19 366.67 275.40 367.50 275.60C368.33 275.80 369.17 275.99 370.00 276.18C370.83 276.36 371.67 276.54 372.50 276.72C373.33 276.89 374.17 277.05 375.00 277.21C375.83 277.37 376.67 277.53 377.50 277.67C378.33 277.82 379.17 277.96 380.00 278.09C380.83 278.23 381.67 278.36 382.50 278.48C383.33 278.60 384.17 278.72 385.00 278.83C385.83 278.94 386.67 279.05 387.50 279.15C388.33 279.25 389.17 279.34 390.00 279.43C390.83 279.52 391.67 279.61 392.50 279.69C393.33 279.77 394.17 279.84 395.00 279.91C395.83 279.99 396.67 280.05 397.50 280.11C398.33 280.18 399.17 280.24 400.00 280.29C400.83 280.34 401.67 280.40 402.50 280.44C403.33 280.49 404.17 280.53 405.00 280.57C405.83 280.61 406.67 280.65 407.50 280.68C408.33 280.71 409.17 280.74 410.00 280.77C410.83 280.80 411.67 280.82 412.50 280.84C413.33 280.87 414.17 280.89 415.00 280.90C415.83 280.92 416.67 280.93 417.50 280.94C418.33 280.96 419.17 280.97 420.00 280.98C420.83 280.98 421.67 280.99 422.50 280.99C423.33 281.00 424.17 281.01 425.00 281.00C425.83 281.00 426.67 280.99 427.50 280.99C428.33 280.98 429.17 280.97 430.00 280.97C430.83 280.96 431.67 280.96 432.50 280.95C433.33 280.95 434.17 280.95 435.00 280.94C435.83 280.94 436.67 280.94 437.50 280.94C438.33 280.94 437.08 280.93 440.00 280.95C442.92 280.96 450.00 281.02 455.00 281.05C460.00 281.09 465.00 281.12 470.00 281.16C475.00 281.20 480.00 281.23 485.00 281.27C490.00 281.30 495.00 281.34 500.00 281.38C505.00 281.41 510.00 281.45 515.00 281.48C520.00 281.52 527.17 281.57 530.00 281.59C532.83 281.61 531.67 281.60 532.00 281.60" stroke="#E6A0A0" stroke-width="1.9"/>
<path d="M65.20 255.30C65.45 255.88 66.20 257.76 66.70 258.78C67.20 259.80 67.70 260.64 68.20 261.43C68.70 262.22 69.20 262.88 69.70 263.54C70.20 264.20 70.70 264.80 71.20 265.42C71.70 266.03 72.20 266.64 72.70 267.22C73.20 267.80 73.70 268.38 74.20 268.91C74.70 269.45 75.20 269.97 75.70 270.44C76.20 270.91 76.70 271.34 77.20 271.73C77.70 272.12 78.20 272.47 78.70 272.78C79.20 273.09 79.70 273.36 80.20 273.59C80.70 273.83 81.20 274.03 81.70 274.20C82.20 274.37 82.70 274.51 83.20 274.62C83.70 274.74 84.20 274.83 84.70 274.89C85.20 274.96 85.70 275.00 86.20 275.03C86.70 275.05 87.20 275.06 87.70 275.05C88.20 275.05 88.70 275.02 89.20 274.99C89.70 274.96 90.20 274.92 90.70 274.87C91.20 274.83 91.70 274.77 92.20 274.72C92.70 274.66 93.20 274.60 93.70 274.54C94.20 274.48 94.70 274.42 95.20 274.35C95.70 274.28 96.20 274.21 96.70 274.14C97.20 274.06 97.70 273.99 98.20 273.90C98.70 273.82 99.40 273.70 99.70 273.65C100.00 273.60 99.53 273.68 100.00 273.59C100.47 273.50 101.67 273.28 102.50 273.10C103.33 272.92 104.17 272.73 105.00 272.53C105.83 272.32 106.67 272.10 107.50 271.86C108.33 271.63 109.17 271.37 110.00 271.10C110.83 270.83 111.67 270.54 112.50 270.23C113.33 269.93 114.17 269.60 115.00 269.25C115.83 268.90 116.67 268.53 117.50 268.14C118.33 267.75 119.17 267.33 120.00 266.90C120.83 266.47 121.67 266.02 122.50 265.57C123.33 265.12 124.17 264.65 125.00 264.19C125.83 263.73 126.67 263.26 127.50 262.82C128.33 262.37 129.17 261.92 130.00 261.50C130.83 261.08 131.67 260.67 132.50 260.30C133.33 259.92 134.17 259.57 135.00 259.25C135.83 258.94 136.67 258.65 137.50 258.42C138.33 258.18 139.17 257.98 140.00 257.84C140.83 257.71 141.67 257.61 142.50 257.58C143.33 257.56 144.17 257.58 145.00 257.68C145.83 257.77 146.67 257.93 147.50 258.16C148.33 258.38 149.17 258.67 150.00 259.04C150.83 259.41 151.67 259.84 152.50 260.36C153.33 260.87 154.17 261.47 155.00 262.13C155.83 262.80 156.67 263.58 157.50 264.33C158.33 265.07 159.17 265.89 160.00 266.62C160.83 267.35 161.67 268.05 162.50 268.69C163.33 269.34 164.17 269.94 165.00 270.50C165.83 271.06 166.67 271.58 167.50 272.06C168.33 272.55 169.17 272.99 170.00 273.41C170.83 273.82 171.67 274.20 172.50 274.55C173.33 274.91 174.17 275.23 175.00 275.52C175.83 275.82 176.67 276.09 177.50 276.34C178.33 276.59 179.17 276.81 180.00 277.02C180.83 277.23 181.67 277.42 182.50 277.60C183.33 277.78 184.17 277.94 185.00 278.09C185.83 278.24 186.67 278.38 187.50 278.51C188.33 278.64 189.17 278.77 190.00 278.89C190.83 279.01 191.67 279.12 192.50 279.22C193.33 279.33 194.17 279.43 195.00 279.52C195.83 279.61 196.67 279.69 197.50 279.77C198.33 279.85 199.17 279.92 200.00 279.99C200.83 280.06 201.67 280.12 202.50 280.17C203.33 280.23 204.17 280.28 205.00 280.32C205.83 280.37 206.67 280.41 207.50 280.44C208.33 280.47 209.17 280.50 210.00 280.53C210.83 280.55 211.67 280.57 212.50 280.59C213.33 280.60 214.17 280.61 215.00 280.62C215.83 280.62 216.67 280.62 217.50 280.62C218.33 280.62 219.17 280.61 220.00 280.61C220.83 280.60 221.67 280.58 222.50 280.57C223.33 280.55 224.17 280.53 225.00 280.51C225.83 280.48 226.67 280.46 227.50 280.43C228.33 280.40 229.17 280.37 230.00 280.34C230.83 280.30 231.67 280.27 232.50 280.23C233.33 280.19 234.17 280.15 235.00 280.10C235.83 280.06 236.67 280.02 237.50 279.97C238.33 279.92 239.17 279.88 240.00 279.83C240.83 279.78 241.67 279.73 242.50 279.68C243.33 279.62 244.17 279.57 245.00 279.52C245.83 279.47 246.67 279.41 247.50 279.36C248.33 279.30 249.17 279.25 250.00 279.19C250.83 279.14 251.67 279.08 252.50 279.02C253.33 278.97 254.17 278.91 255.00 278.86C255.83 278.80 256.67 278.75 257.50 278.70C258.33 278.64 259.17 278.59 260.00 278.54C260.83 278.48 261.67 278.43 262.50 278.38C263.33 278.33 264.17 278.28 265.00 278.24C265.83 278.19 266.67 278.14 267.50 278.10C268.33 278.05 269.17 278.01 270.00 277.97C270.83 277.93 271.67 277.89 272.50 277.86C273.33 277.82 274.17 277.79 275.00 277.76C275.83 277.73 276.67 277.70 277.50 277.67C278.33 277.65 279.17 277.62 280.00 277.60C280.83 277.58 281.67 277.56 282.50 277.54C283.33 277.53 284.17 277.51 285.00 277.50C285.83 277.49 286.67 277.48 287.50 277.47C288.33 277.46 289.17 277.46 290.00 277.45C290.83 277.45 291.67 277.45 292.50 277.45C293.33 277.45 294.17 277.45 295.00 277.45C295.83 277.45 296.67 277.46 297.50 277.47C298.33 277.47 299.17 277.48 300.00 277.49C300.83 277.50 301.67 277.51 302.50 277.53C303.33 277.54 304.17 277.56 305.00 277.57C305.83 277.59 306.67 277.61 307.50 277.63C308.33 277.65 309.17 277.67 310.00 277.69C310.83 277.71 311.67 277.74 312.50 277.76C313.33 277.78 314.17 277.81 315.00 277.84C315.83 277.86 316.67 277.89 317.50 277.92C318.33 277.95 319.17 277.98 320.00 278.01C320.83 278.04 321.67 278.08 322.50 278.11C323.33 278.14 324.17 278.18 325.00 278.21C325.83 278.25 326.67 278.28 327.50 278.32C328.33 278.35 329.17 278.39 330.00 278.43C330.83 278.47 331.67 278.51 332.50 278.54C333.33 278.58 334.17 278.62 335.00 278.66C335.83 278.70 336.67 278.74 337.50 278.78C338.33 278.82 339.17 278.86 340.00 278.91C340.83 278.95 341.67 278.99 342.50 279.03C343.33 279.07 344.17 279.11 345.00 279.16C345.83 279.20 346.67 279.24 347.50 279.28C348.33 279.33 349.17 279.37 350.00 279.41C350.83 279.45 351.67 279.50 352.50 279.54C353.33 279.58 354.17 279.62 355.00 279.66C355.83 279.71 356.67 279.75 357.50 279.79C358.33 279.83 359.17 279.87 360.00 279.91C360.83 279.95 361.67 279.99 362.50 280.03C363.33 280.07 364.17 280.11 365.00 280.15C365.83 280.19 366.67 280.23 367.50 280.27C368.33 280.30 369.17 280.34 370.00 280.38C370.83 280.41 371.67 280.45 372.50 280.48C373.33 280.52 374.17 280.55 375.00 280.59C375.83 280.62 376.67 280.65 377.50 280.68C378.33 280.71 379.17 280.74 380.00 280.77C380.83 280.80 381.67 280.83 382.50 280.86C383.33 280.89 384.17 280.91 385.00 280.94C385.83 280.96 386.67 280.98 387.50 281.01C388.33 281.03 389.17 281.05 390.00 281.07C390.83 281.09 391.67 281.11 392.50 281.13C393.33 281.14 394.17 281.16 395.00 281.18C395.83 281.19 396.67 281.21 397.50 281.22C398.33 281.23 399.17 281.25 400.00 281.26C400.83 281.27 401.67 281.28 402.50 281.29C403.33 281.30 404.17 281.31 405.00 281.32C405.83 281.32 406.67 281.33 407.50 281.34C408.33 281.34 409.17 281.35 410.00 281.35C410.83 281.36 411.67 281.36 412.50 281.37C413.33 281.37 414.17 281.37 415.00 281.38C415.83 281.38 416.67 281.38 417.50 281.38C418.33 281.38 419.17 281.38 420.00 281.38C420.83 281.38 421.67 281.38 422.50 281.38C423.33 281.38 424.17 281.38 425.00 281.38C425.83 281.37 426.67 281.36 427.50 281.35C428.33 281.34 429.17 281.33 430.00 281.33C430.83 281.32 431.67 281.31 432.50 281.30C433.33 281.30 434.17 281.29 435.00 281.28C435.83 281.28 436.67 281.27 437.50 281.27C438.33 281.26 437.08 281.26 440.00 281.26C442.92 281.25 450.00 281.26 455.00 281.26C460.00 281.27 465.00 281.28 470.00 281.29C475.00 281.30 480.00 281.31 485.00 281.32C490.00 281.33 495.00 281.34 500.00 281.34C505.00 281.35 510.00 281.36 515.00 281.37C520.00 281.38 527.17 281.39 530.00 281.40C532.83 281.40 531.67 281.40 532.00 281.40" stroke="#FFC000" stroke-width="2.0"/>
<path d="M65.20 243.70C65.45 243.92 66.20 244.62 66.70 245.02C67.20 245.41 67.70 245.77 68.20 246.06C68.70 246.36 69.20 246.62 69.70 246.81C70.20 247.00 70.70 247.13 71.20 247.20C71.70 247.27 72.20 247.28 72.70 247.21C73.20 247.14 73.70 247.00 74.20 246.79C74.70 246.57 75.20 246.27 75.70 245.90C76.20 245.53 76.70 245.07 77.20 244.58C77.70 244.08 78.20 243.51 78.70 242.93C79.20 242.34 79.70 241.70 80.20 241.07C80.70 240.44 81.20 239.77 81.70 239.12C82.20 238.48 82.70 237.82 83.20 237.21C83.70 236.59 84.20 236.01 84.70 235.42C85.20 234.83 85.70 234.30 86.20 233.67C86.70 233.03 87.20 232.36 87.70 231.61C88.20 230.87 88.70 229.98 89.20 229.18C89.70 228.38 90.20 227.58 90.70 226.80C91.20 226.01 91.70 225.26 92.20 224.46C92.70 223.66 93.20 222.83 93.70 221.98C94.20 221.14 94.70 220.25 95.20 219.38C95.70 218.52 96.20 217.65 96.70 216.79C97.20 215.92 97.70 215.07 98.20 214.19C98.70 213.31 99.40 212.04 99.70 211.50C100.00 210.96 99.53 211.84 100.00 210.94C100.47 210.04 101.67 207.77 102.50 206.10C103.33 204.43 104.17 202.68 105.00 200.90C105.83 199.11 106.67 197.27 107.50 195.38C108.33 193.50 109.17 191.56 110.00 189.59C110.83 187.63 111.67 185.61 112.50 183.58C113.33 181.54 114.17 179.47 115.00 177.38C115.83 175.29 116.67 173.17 117.50 171.04C118.33 168.91 119.17 166.76 120.00 164.60C120.83 162.44 121.67 160.26 122.50 158.08C123.33 155.90 124.17 153.70 125.00 151.51C125.83 149.32 126.67 147.12 127.50 144.92C128.33 142.73 129.17 140.53 130.00 138.35C130.83 136.17 131.67 133.98 132.50 131.82C133.33 129.65 134.17 127.49 135.00 125.36C135.83 123.22 136.67 121.10 137.50 119.01C138.33 116.92 139.17 114.85 140.00 112.83C140.83 110.81 141.67 108.81 142.50 106.87C143.33 104.93 144.17 103.02 145.00 101.18C145.83 99.34 146.67 97.54 147.50 95.82C148.33 94.10 149.17 92.43 150.00 90.84C150.83 89.25 151.67 87.72 152.50 86.28C153.33 84.84 154.17 83.48 155.00 82.21C155.83 80.94 156.67 79.75 157.50 78.67C158.33 77.59 159.17 76.59 160.00 75.72C160.83 74.84 161.67 74.06 162.50 73.41C163.33 72.75 164.17 72.20 165.00 71.79C165.83 71.37 166.67 71.07 167.50 70.91C168.33 70.75 169.17 70.73 170.00 70.83C170.83 70.93 171.67 71.17 172.50 71.53C173.33 71.88 174.17 72.37 175.00 72.96C175.83 73.55 176.67 74.27 177.50 75.08C178.33 75.90 179.17 76.83 180.00 77.85C180.83 78.87 181.67 79.99 182.50 81.20C183.33 82.41 184.17 83.72 185.00 85.11C185.83 86.49 186.67 87.97 187.50 89.51C188.33 91.06 189.17 92.68 190.00 94.37C190.83 96.06 191.67 97.82 192.50 99.63C193.33 101.44 194.17 103.32 195.00 105.24C195.83 107.16 196.67 109.13 197.50 111.13C198.33 113.13 199.17 115.18 200.00 117.25C200.83 119.31 201.67 121.42 202.50 123.52C203.33 125.63 204.17 127.77 205.00 129.90C205.83 132.03 206.67 134.18 207.50 136.31C208.33 138.45 209.17 140.58 210.00 142.70C210.83 144.82 211.67 146.93 212.50 149.03C213.33 151.13 214.17 153.22 215.00 155.29C215.83 157.36 216.67 159.41 217.50 161.45C218.33 163.49 219.17 165.51 220.00 167.52C220.83 169.52 221.67 171.50 222.50 173.46C223.33 175.42 224.17 177.37 225.00 179.28C225.83 181.20 226.67 183.09 227.50 184.96C228.33 186.82 229.17 188.66 230.00 190.47C230.83 192.28 231.67 194.07 232.50 195.81C233.33 197.56 234.17 199.28 235.00 200.95C235.83 202.63 236.67 204.26 237.50 205.85C238.33 207.43 239.17 208.98 240.00 210.47C240.83 211.95 241.67 213.39 242.50 214.76C243.33 216.14 244.17 217.46 245.00 218.71C245.83 219.96 246.67 221.15 247.50 222.27C248.33 223.39 249.17 224.45 250.00 225.46C250.83 226.46 251.67 227.41 252.50 228.30C253.33 229.20 254.17 230.04 255.00 230.84C255.83 231.64 256.67 232.38 257.50 233.09C258.33 233.80 259.17 234.47 260.00 235.10C260.83 235.73 261.67 236.32 262.50 236.88C263.33 237.44 264.17 237.97 265.00 238.47C265.83 238.98 266.67 239.45 267.50 239.89C268.33 240.34 269.17 240.76 270.00 241.16C270.83 241.55 271.67 241.93 272.50 242.28C273.33 242.63 274.17 242.96 275.00 243.27C275.83 243.58 276.67 243.88 277.50 244.15C278.33 244.43 279.17 244.69 280.00 244.94C280.83 245.18 281.67 245.41 282.50 245.64C283.33 245.86 284.17 246.06 285.00 246.27C285.83 246.47 286.67 246.66 287.50 246.84C288.33 247.03 289.17 247.20 290.00 247.38C290.83 247.55 291.67 247.72 292.50 247.89C293.33 248.06 294.17 248.22 295.00 248.39C295.83 248.56 296.67 248.72 297.50 248.90C298.33 249.07 299.17 249.24 300.00 249.42C300.83 249.60 301.67 249.78 302.50 249.98C303.33 250.17 304.17 250.37 305.00 250.58C305.83 250.80 306.67 251.02 307.50 251.25C308.33 251.49 309.17 251.74 310.00 251.99C310.83 252.25 311.67 252.52 312.50 252.80C313.33 253.08 314.17 253.37 315.00 253.67C315.83 253.97 316.67 254.28 317.50 254.59C318.33 254.91 319.17 255.24 320.00 255.58C320.83 255.91 321.67 256.26 322.50 256.61C323.33 256.96 324.17 257.32 325.00 257.68C325.83 258.05 326.67 258.42 327.50 258.80C328.33 259.18 329.17 259.56 330.00 259.95C330.83 260.34 331.67 260.74 332.50 261.14C333.33 261.54 334.17 261.95 335.00 262.36C335.83 262.76 336.67 263.18 337.50 263.58C338.33 263.99 339.17 264.40 340.00 264.80C340.83 265.20 341.67 265.60 342.50 265.99C343.33 266.38 344.17 266.77 345.00 267.13C345.83 267.50 346.67 267.86 347.50 268.21C348.33 268.55 349.17 268.88 350.00 269.20C350.83 269.52 351.67 269.83 352.50 270.13C353.33 270.42 354.17 270.70 355.00 270.98C355.83 271.25 356.67 271.51 357.50 271.76C358.33 272.02 359.17 272.26 360.00 272.49C360.83 272.72 361.67 272.94 362.50 273.16C363.33 273.37 364.17 273.57 365.00 273.77C365.83 273.96 366.67 274.15 367.50 274.33C368.33 274.51 369.17 274.68 370.00 274.85C370.83 275.01 371.67 275.17 372.50 275.32C373.33 275.48 374.17 275.62 375.00 275.76C375.83 275.90 376.67 276.04 377.50 276.17C378.33 276.29 379.17 276.42 380.00 276.54C380.83 276.66 381.67 276.77 382.50 276.89C383.33 277.00 384.17 277.11 385.00 277.21C385.83 277.32 386.67 277.42 387.50 277.52C388.33 277.62 389.17 277.72 390.00 277.81C390.83 277.91 391.67 278.00 392.50 278.09C393.33 278.18 394.17 278.26 395.00 278.35C395.83 278.43 396.67 278.51 397.50 278.59C398.33 278.67 399.17 278.75 400.00 278.82C400.83 278.90 401.67 278.97 402.50 279.04C403.33 279.11 404.17 279.18 405.00 279.24C405.83 279.31 406.67 279.37 407.50 279.43C408.33 279.50 409.17 279.55 410.00 279.61C410.83 279.67 411.67 279.72 412.50 279.78C413.33 279.83 414.17 279.88 415.00 279.93C415.83 279.98 416.67 280.02 417.50 280.07C418.33 280.12 419.17 280.16 420.00 280.20C420.83 280.24 421.67 280.28 422.50 280.32C423.33 280.36 424.17 280.40 425.00 280.43C425.83 280.46 426.67 280.49 427.50 280.52C428.33 280.54 429.17 280.57 430.00 280.59C430.83 280.61 431.67 280.62 432.50 280.64C433.33 280.65 434.17 280.67 435.00 280.68C435.83 280.69 436.67 280.70 437.50 280.70C438.33 280.71 437.08 280.69 440.00 280.72C442.92 280.76 450.00 280.87 455.00 280.92C460.00 280.97 465.00 281.00 470.00 281.03C475.00 281.05 480.00 281.06 485.00 281.07C490.00 281.08 495.00 281.10 500.00 281.11C505.00 281.13 510.00 281.14 515.00 281.15C520.00 281.17 527.17 281.19 530.00 281.20C532.83 281.20 531.67 281.20 532.00 281.20" stroke="#00B0F0" stroke-width="2.5"/>
</g>
<g font-family="'Liberation Sans', Arial, sans-serif" font-size="12.8" fill="#000" stroke="#000" stroke-width="0.2" text-anchor="end">
<text x="51" y="287.3">0</text>
<text x="51" y="203.7">0.4</text>
<text x="51" y="120.1">0.8</text>
<text x="51" y="36.5">1.2</text>
</g>
<g font-family="'Liberation Sans', Arial, sans-serif" font-size="14" fill="#000" stroke="#000" stroke-width="0.15" text-anchor="middle">
<text x="65.3" y="305.2">250</text>
<text x="220.5" y="305.2">350</text>
<text x="375.7" y="305.2">450</text>
<text x="530.9" y="305.2">550</text>
</g>
<g font-family="'Liberation Serif', 'Times New Roman', serif" fill="#000" stroke="#000" stroke-width="0.25">
<text x="298.1" y="333" font-size="18.05" text-anchor="middle">Wavelength (nm)</text>
<text transform="translate(19.2 155) rotate(-90)" font-size="18" text-anchor="middle">Absorbance</text>
<text transform="translate(167.4 58.8) scale(0.92 1)" font-size="13.2" text-anchor="middle">A</text>
<text x="304.1" y="40.2" font-size="13.2" text-anchor="middle">B</text>
<text x="135.7" y="244.8" font-size="13.2" text-anchor="middle">C</text>
</g>
<g stroke="#000" stroke-width="1.5" fill="none" stroke-linecap="round" stroke-linejoin="round"><path d="M424.1 68.5V155.5"/><path d="M418.5 146L424.1 155.8L429.6 146"/></g>
<g font-family="'Liberation Sans', Arial, sans-serif" font-size="13.2" fill="#F77F1A" stroke="#F77F1A" stroke-width="0.12">
<text x="442" y="82.1">0 s</text>
<text x="435.4" y="154.2">114 s</text>
</g>
</svg>
</body></html>
